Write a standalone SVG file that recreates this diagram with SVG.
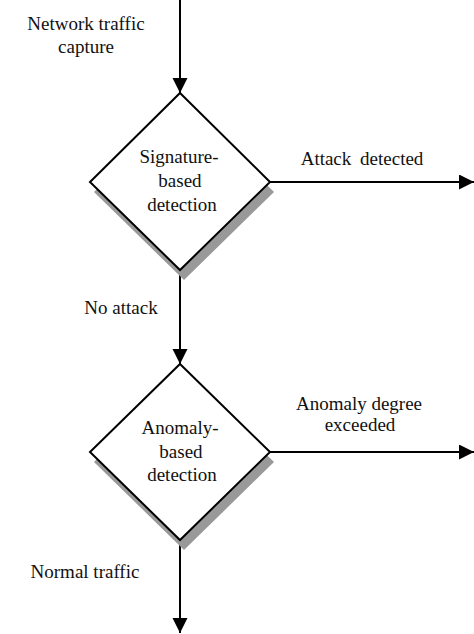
<svg xmlns="http://www.w3.org/2000/svg" width="474" height="634" viewBox="0 0 474 634">
<defs>
<marker id="ah" markerUnits="userSpaceOnUse" markerWidth="16" markerHeight="16" refX="15" refY="7.5" orient="auto">
<path d="M0,0 L15,7.5 L0,15 z" fill="#000"/>
</marker>
</defs>
<style>
text{font-family:"Liberation Serif","Times New Roman",serif;font-size:19px;fill:#111;text-anchor:middle}
.shadow{fill:#999;stroke:none}
.dia{fill:#fff;stroke:#000;stroke-width:2}
.conn{stroke:#000;stroke-width:2;fill:none;marker-end:url(#ah)}
</style>
<rect width="474" height="634" fill="#fff"/>
<g id="connectors">
<line class="conn" x1="180" y1="0" x2="180" y2="93"/>
<line class="conn" x1="270" y1="182" x2="474" y2="182"/>
<line class="conn" x1="180" y1="270" x2="180" y2="364"/>
<line class="conn" x1="270" y1="452" x2="474" y2="452"/>
<line class="conn" x1="180" y1="540" x2="180" y2="633"/>
</g>
<g id="signature">
<polygon class="shadow" points="184,103 274,192 184,280 94,192"/>
<polygon class="dia" points="180,93 270,182 180,270 90,182"/>
<text x="179" y="163">Signature-</text>
<text x="180" y="187">based</text>
<text x="182" y="211">detection</text>
</g>
<g id="anomaly">
<polygon class="shadow" points="184,374 274,462 184,550 94,462"/>
<polygon class="dia" points="180,364 270,452 180,540 90,452"/>
<text x="180" y="434">Anomaly-</text>
<text x="181" y="458">based</text>
<text x="182" y="481">detection</text>
</g>
<g id="labels">
<text x="86" y="30">Network traffic</text>
<text x="86" y="53">capture</text>
<text x="362" y="165" style="word-spacing:4px">Attack detected</text>
<text x="121" y="314">No attack</text>
<text x="359" y="410">Anomaly degree</text>
<text x="360" y="431">exceeded</text>
<text x="85" y="578">Normal traffic</text>
</g>
</svg>
